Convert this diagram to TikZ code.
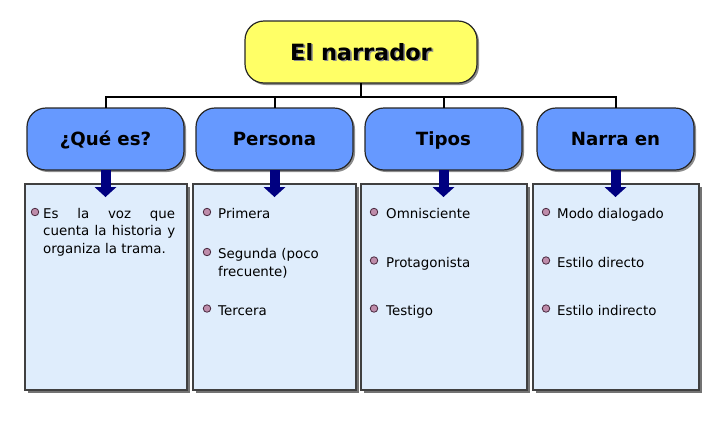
\documentclass[tikz,border=0pt]{standalone}
\usepackage{fontspec}
\setmainfont{DejaVu Sans}
\usetikzlibrary{shadows,arrows.meta}
\definecolor{ttlyellow}{HTML}{FFFF66}
\definecolor{lblblue}{HTML}{6699FF}
\definecolor{cntblue}{HTML}{DFEDFC}
\definecolor{navyarr}{HTML}{000080}
\definecolor{bulfill}{HTML}{BE8CAA}
\definecolor{buldraw}{HTML}{4A2A40}
\newcommand{\shadowtext}[1]{\makebox[0pt][l]{\hspace*{1.6pt}\raisebox{-1.6pt}{\textcolor{black!45}{#1}}}#1}
\begin{document}
\begin{tikzpicture}[x=1pt,y=-1pt,
 ttlbox/.style={draw=black!85, line width=1.2pt, fill=ttlyellow, rounded corners=19pt, minimum width=232pt, minimum height=62pt, inner sep=0pt, outer sep=0pt, text height=16.3pt, text depth=0pt, font=\fontsize{22.4}{24}\selectfont\bfseries, drop shadow={shadow xshift=2pt, shadow yshift=-2pt, fill=black!45, opacity=1}},
 lblbox/.style={draw=black!85, line width=1.2pt, fill=lblblue, rounded corners=19pt, minimum width=157pt, minimum height=62pt, inner sep=0pt, outer sep=0pt, text height=13.3pt, text depth=0pt, font=\fontsize{18.2}{20}\selectfont\bfseries, drop shadow={shadow xshift=2pt, shadow yshift=-2pt, fill=black!45, opacity=1}},
 cntbox/.style={draw=black!75, line width=1.2pt, fill=cntblue, minimum height=206pt, inner sep=0pt, outer sep=0pt, drop shadow={shadow xshift=3pt, shadow yshift=-3pt, fill=black!55, opacity=1}},
 link/.style={draw=black, line width=2pt},
 bigarrow/.style={draw=navyarr, line width=10pt, -{Triangle[width=22pt,length=10pt,line width=0pt]}},
 bul/.style={circle, draw=buldraw, line width=0.8pt, fill=bulfill, minimum size=7.5pt, inner sep=0pt},
 itm/.style={anchor=base west, inner sep=0pt, font=\fontsize{13.4}{16}\selectfont},
]
\useasboundingbox (0,0) rectangle (725,421);

\coordinate (hub) at (361,97);
\node[ttlbox] (title) at (361,52) {\shadowtext{El narrador}};
\node[lblbox] (b1) at (105.5,139) {¿Qué es?};
\node[lblbox] (b2) at (274.5,139) {Persona};
\node[lblbox] (b3) at (443.5,139) {Tipos};
\node[lblbox] (b4) at (615.5,139) {Narra en};
\draw[link] (title.south) -- (hub);
\draw[link] (hub) -| (b1.north);
\draw[link] (hub) -| (b2.north);
\draw[link] (hub) -| (b3.north);
\draw[link] (hub) -| (b4.north);

% content boxes
\node[cntbox, minimum width=162pt] (c1) at (106,287) {};
\node[cntbox, minimum width=163pt] (c2) at (274.5,287) {};
\node[cntbox, minimum width=166pt] (c3) at (444,287) {};
\node[cntbox, minimum width=166pt] (c4) at (616,287) {};

% arrows
\coordinate (a1) at (b1.south |- 0,197);
\coordinate (a2) at (b2.south |- 0,197);
\coordinate (a3) at (b3.south |- 0,197);
\coordinate (a4) at (b4.south |- 0,197);
\draw[bigarrow] (b1.south) -- (a1);
\draw[bigarrow] (b2.south) -- (a2);
\draw[bigarrow] (b3.south) -- (a3);
\draw[bigarrow] (b4.south) -- (a4);

% box 1
\node[bul] (p1) at (35,212) {};
\node[itm] (t1a) at (43,218) {\hbox to 132pt{Es\hfill la\hfill voz\hfill que}};
\node[itm] (t1b) at (43,235.5) {\hbox to 132pt{cuenta\hfill la\hfill historia\hfill y}};
\node[itm] (t1c) at (43,253) {organiza la trama.};

% box 2
\node[bul] (p2a) at (207,212) {};
\node[itm] (t2a) at (218,218) {Primera};
\node[bul] (p2b) at (207,252) {};
\node[itm] (t2b) at (218,258.5) {Segunda (poco};
\node[itm] (t2c) at (218,276.5) {frecuente)};
\node[bul] (p2c) at (207,308.5) {};
\node[itm] (t2d) at (218,315) {Tercera};

% box 3
\node[bul] (p3a) at (374,212) {};
\node[itm] (t3a) at (386,218) {Omnisciente};
\node[bul] (p3b) at (374,260.5) {};
\node[itm] (t3b) at (386,267) {Protagonista};
\node[bul] (p3c) at (374,308.5) {};
\node[itm] (t3c) at (386,315) {Testigo};

% box 4
\node[bul] (p4a) at (546,212) {};
\node[itm] (t4a) at (557,218) {Modo dialogado};
\node[bul] (p4b) at (546,260.5) {};
\node[itm] (t4b) at (557,267) {Estilo directo};
\node[bul] (p4c) at (546,308.5) {};
\node[itm] (t4c) at (557,315) {Estilo indirecto};
\end{tikzpicture}
\end{document}
